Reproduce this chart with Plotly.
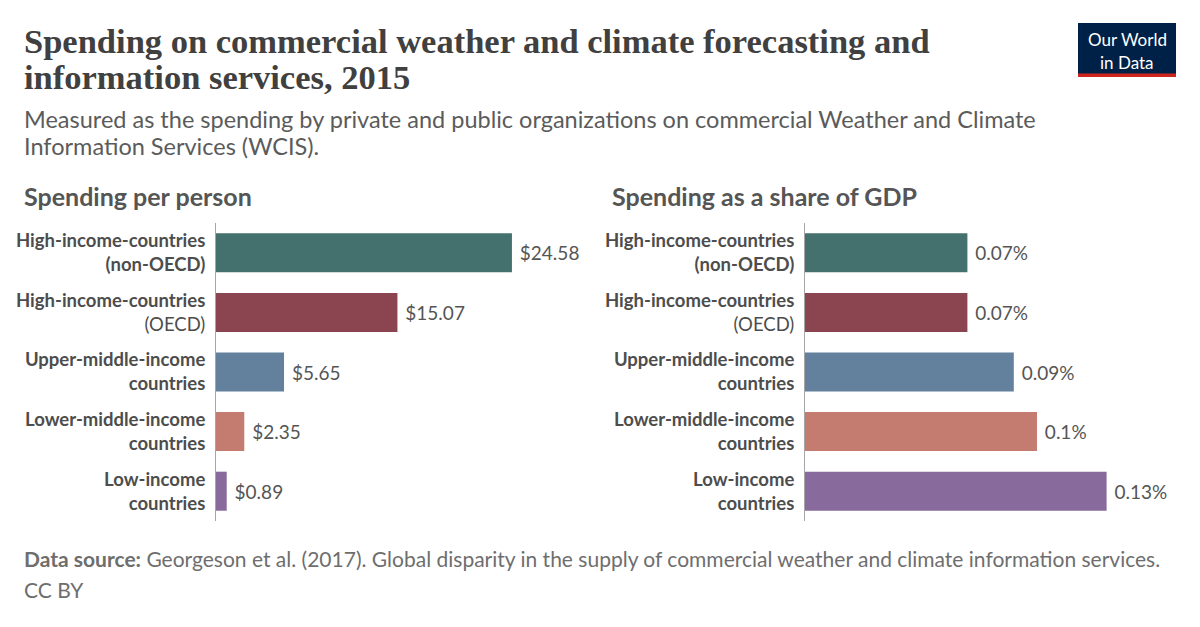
import plotly.graph_objects as go

categories = [
    "<b>High-income-countries</b><br><b>(non-OECD)</b>",
    "<b>High-income-countries</b><br>(OECD)",
    "<b>Upper-middle-income</b><br><b>countries</b>",
    "<b>Lower-middle-income</b><br><b>countries</b>",
    "<b>Low-income</b><br><b>countries</b>",
]
per_person = [24.58, 15.07, 5.65, 2.35, 0.89]
per_person_labels = [" $24.58", " $15.07", " $5.65", " $2.35", " $0.89"]
share_gdp = [0.07, 0.07, 0.09, 0.10, 0.13]
share_gdp_labels = [" 0.07%", " 0.07%", " 0.09%", " 0.1%", " 0.13%"]
colors = ["#44716d", "#8a4550", "#63809c", "#c47c70", "#886a9d"]

W, H = 1200, 627
def px(x):
    return x / W
def py(y):
    return 1 - y / H

fig = go.Figure()
fig.add_trace(go.Bar(
    y=categories, x=per_person, orientation="h",
    marker=dict(color=colors, line=dict(width=0)),
    text=per_person_labels, textposition="outside", cliponaxis=False,
    textfont=dict(family="Lato", size=19, color="#555555"),
    xaxis="x", yaxis="y", width=0.655, hoverinfo="skip",
))
fig.add_trace(go.Bar(
    y=categories, x=share_gdp, orientation="h",
    marker=dict(color=colors, line=dict(width=0)),
    text=share_gdp_labels, textposition="outside", cliponaxis=False,
    textfont=dict(family="Lato", size=19, color="#555555"),
    xaxis="x2", yaxis="y2", width=0.655, hoverinfo="skip",
))

ydom = [py(521), py(223)]
common_y = dict(
    autorange="reversed", showline=True, linecolor="#a6a6a6", linewidth=1,
    ticks="", showgrid=False, domain=ydom,
    tickfont=dict(family="Lato", size=18.5, color="#4d4d4d"),
    ticklabelstandoff=6,
)
common_x = dict(showline=False, showgrid=False, zeroline=False,
                showticklabels=False, ticks="")

fig.update_layout(
    width=W, height=H,
    margin=dict(l=0, r=0, t=0, b=0),
    paper_bgcolor="white", plot_bgcolor="white",
    showlegend=False,
    xaxis=dict(domain=[px(216), px(580)], range=[0, 364 / 12.04], **common_x),
    yaxis=dict(anchor="x", **common_y),
    xaxis2=dict(domain=[px(805), px(1175)], range=[0, 370 / 2320], anchor="y2", **common_x),
    yaxis2=dict(anchor="x2", **common_y),
)

title_font = dict(family="Liberation Serif", size=34.5, color="#404040", weight="bold")
sub_font = dict(family="Lato", size=23.5, color="#5b5b5b")
foot_font = dict(family="Lato", size=21, color="#6e6e6e")
logo_font = dict(family="Lato", size=17, color="white")
annotations = [
    dict(text="Spending on commercial weather and climate forecasting and",
         x=px(23), y=py(21), xanchor="left", yanchor="top", font=title_font),
    dict(text="information services, 2015",
         x=px(23), y=py(57), xanchor="left", yanchor="top", font=title_font),
    dict(text="Measured as the spending by private and public organizations on commercial Weather and Climate",
         x=px(23), y=py(103.5), xanchor="left", yanchor="top", font=sub_font),
    dict(text="Information Services (WCIS).",
         x=px(23), y=py(131.5), xanchor="left", yanchor="top", font=sub_font),
    dict(text="Spending per person", x=px(23), y=py(180), xanchor="left", yanchor="top",
         font=dict(family="Lato", size=25, color="#555555", weight="bold")),
    dict(text="Spending as a share of GDP", x=px(611), y=py(180), xanchor="left", yanchor="top",
         font=dict(family="Lato", size=25, color="#555555", weight="bold")),
    dict(text="<b>Data source:</b> Georgeson et al. (2017). Global disparity in the supply of commercial weather and climate information services.",
         x=px(23), y=py(545), xanchor="left", yanchor="top", font=foot_font),
    dict(text="CC BY", x=px(23), y=py(576), xanchor="left", yanchor="top", font=foot_font),
    dict(text="Our World", x=px(1127), y=py(51), xanchor="center", yanchor="bottom",
         font=logo_font),
    dict(text="in Data", x=px(1127), y=py(51), xanchor="center", yanchor="top",
         font=logo_font),
]
for a in annotations:
    a["showarrow"] = False
    a["xref"] = "paper"
    a["yref"] = "paper"
    a["borderpad"] = 0
fig.update_layout(annotations=annotations)

fig.update_layout(shapes=[
    dict(type="rect", xref="paper", yref="paper", x0=px(1078), x1=px(1176), y0=py(77), y1=py(23),
         fillcolor="#002147", line=dict(width=0), layer="below"),
    dict(type="rect", xref="paper", yref="paper", x0=px(1078), x1=px(1176), y0=py(77), y1=py(73.5),
         fillcolor="#ce261e", line=dict(width=0)),
])

fig.write_html("out.html")
